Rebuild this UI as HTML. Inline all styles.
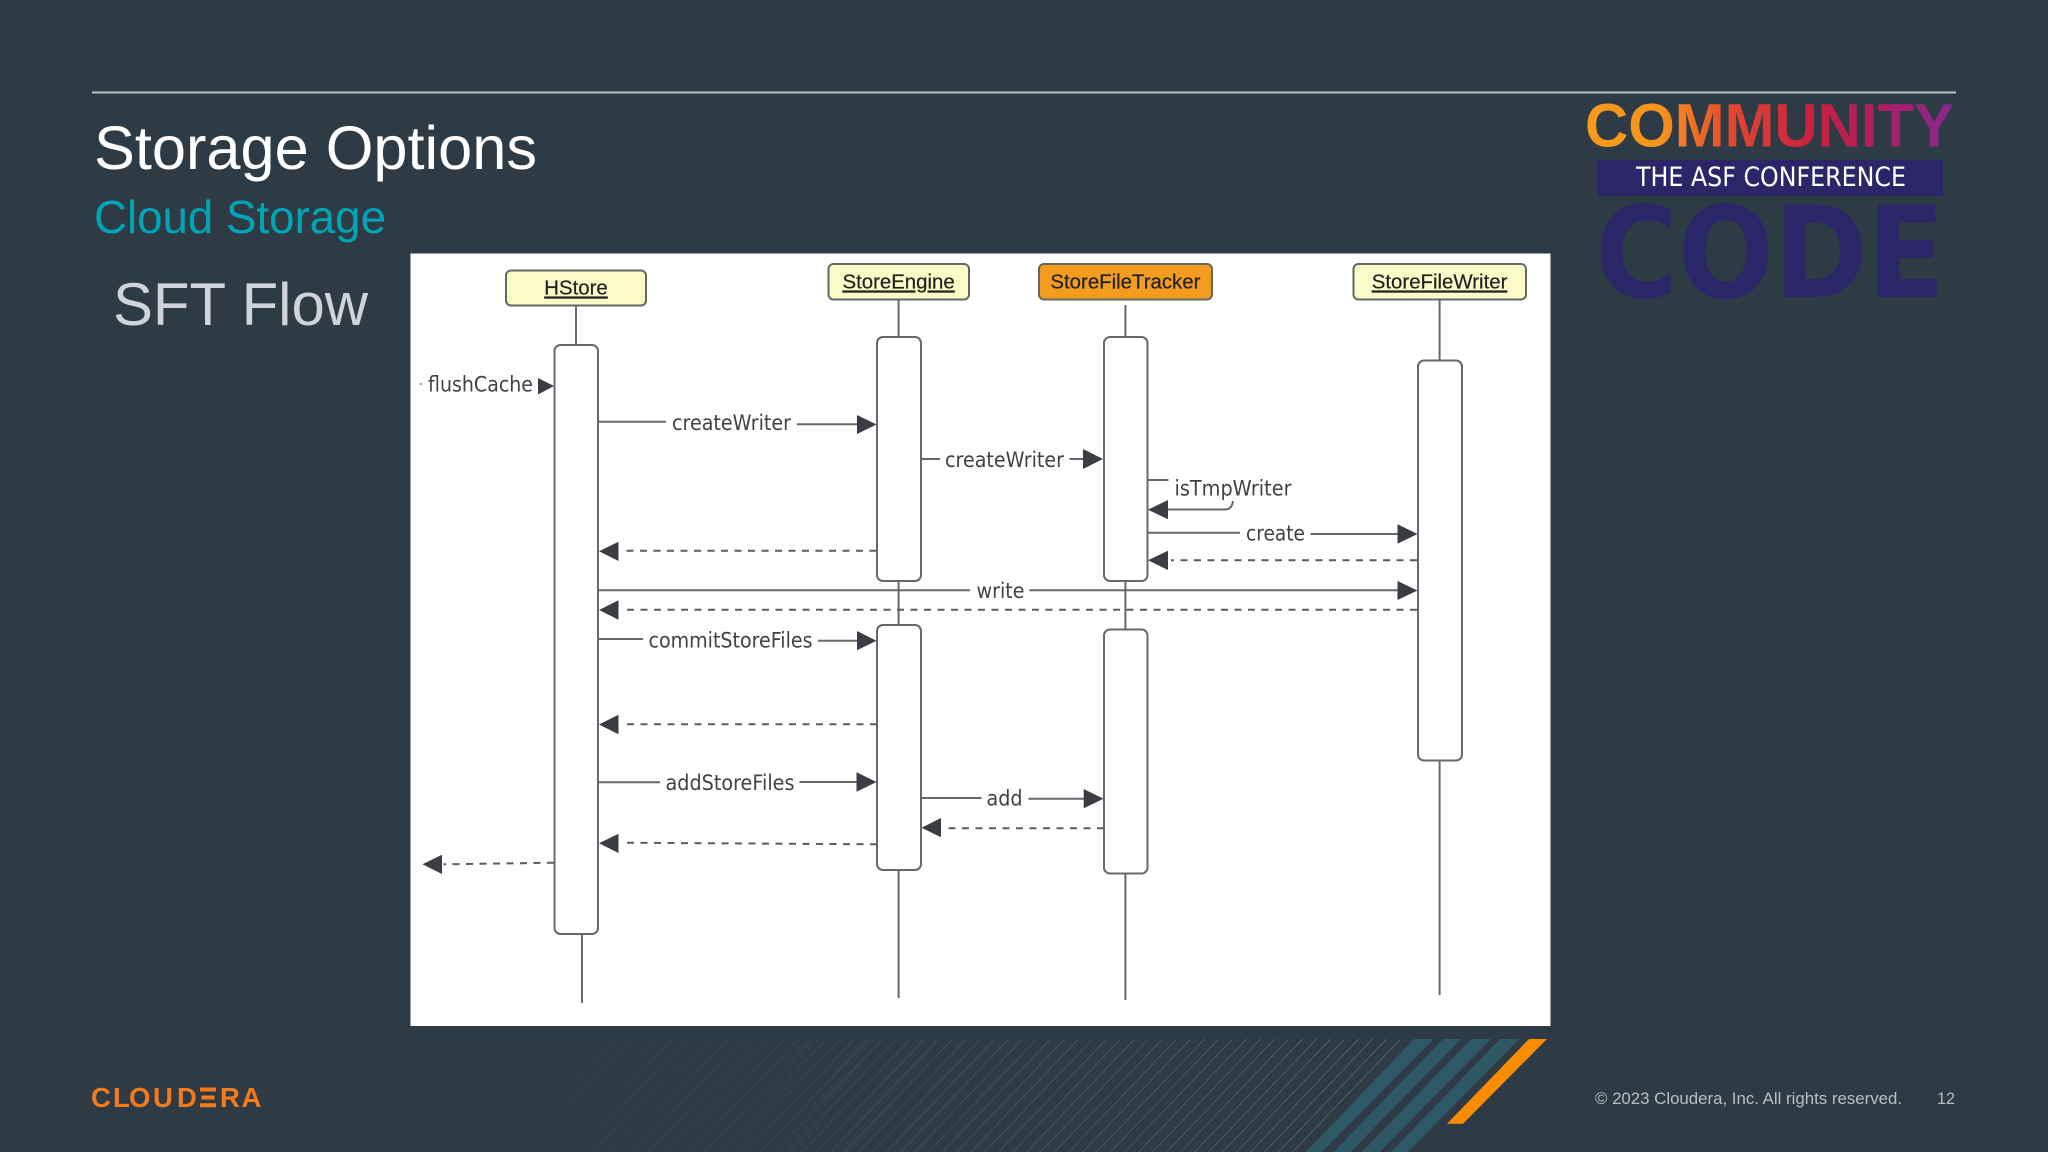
<!DOCTYPE html>
<html><head><meta charset="utf-8"><title>Storage Options</title>
<style>
html,body{margin:0;padding:0;width:2048px;height:1152px;overflow:hidden;background:#2e3b45}
svg{display:block}
.m{font-family:"DejaVu Sans",sans-serif;font-size:21px;fill:#3f4247}
.n{font-family:"Liberation Sans",sans-serif;font-size:20.4px;fill:#222;text-anchor:middle;stroke:#222;stroke-width:.2}
.a{fill:#fff;stroke:#66686b;stroke-width:2}
.l{stroke:#66686b;stroke-width:2;fill:none}
.d{stroke:#5a5c60;stroke-width:2;fill:none;stroke-dasharray:7 6.5}
.h{fill:#3b3d45}
.b{stroke:#66675f;stroke-width:2}
</style></head><body>
<svg width="2048" height="1152" viewBox="0 0 2048 1152" xmlns="http://www.w3.org/2000/svg">
<defs>
<linearGradient id="cg" gradientUnits="userSpaceOnUse" x1="1587" y1="0" x2="1953" y2="0">
<stop offset="0" stop-color="#f79a1e"/><stop offset=".2" stop-color="#f7941d"/><stop offset=".4" stop-color="#e0462f"/><stop offset=".62" stop-color="#c8213f"/><stop offset=".8" stop-color="#ac1f62"/><stop offset="1" stop-color="#87288f"/>
</linearGradient>
<pattern id="st" patternUnits="userSpaceOnUse" width="14" height="4" patternTransform="translate(0 1039) skewX(-43.7)">
<rect x="0" y="0" width="1.2" height="4" fill="#55737f"/>
</pattern>
<linearGradient id="fd" gradientUnits="userSpaceOnUse" x1="370" y1="0" x2="1330" y2="0">
<stop offset="0" stop-color="#fff" stop-opacity="0"/><stop offset=".4" stop-color="#fff" stop-opacity=".22"/><stop offset="1" stop-color="#fff" stop-opacity=".8"/>
</linearGradient>
<mask id="mk" maskUnits="userSpaceOnUse" x="0" y="1000" width="2048" height="152"><rect x="0" y="1000" width="2048" height="152" fill="url(#fd)"/></mask>
</defs>
<rect width="2048" height="1152" fill="#2e3b45"/>

<!-- header -->
<rect x="92" y="91.5" width="1864" height="2" fill="#b5c5c9"/>
<text x="94" y="169" font-family="'Liberation Sans',sans-serif" font-size="61" fill="#fff" textLength="443" lengthAdjust="spacingAndGlyphs">Storage Options</text>
<text x="94" y="233" font-family="'Liberation Sans',sans-serif" font-size="46" fill="#00a5b5" textLength="292" lengthAdjust="spacingAndGlyphs">Cloud Storage</text>
<text x="113" y="325" font-family="'Liberation Sans',sans-serif" font-size="60" fill="#d0d3d9" textLength="255" lengthAdjust="spacingAndGlyphs">SFT Flow</text>

<!-- conference logo -->
<text x="1585" y="146.5" font-family="'Liberation Sans',sans-serif" font-weight="bold" font-size="61" fill="url(#cg)" textLength="369" lengthAdjust="spacingAndGlyphs">COMMUNITY</text>
<rect x="1598" y="160" width="345" height="36" fill="#2b2668"/>
<text x="1636" y="186" font-family="'DejaVu Sans',sans-serif" font-size="27" fill="#fff" textLength="270" lengthAdjust="spacingAndGlyphs">THE ASF CONFERENCE</text>
<text x="1595" y="297" font-family="'DejaVu Sans',sans-serif" font-weight="bold" font-size="127" fill="#2b2668" textLength="350" lengthAdjust="spacingAndGlyphs">CODE</text>

<!-- diagram panel -->
<rect x="410.5" y="253.5" width="1140" height="772.5" fill="#fff"/>

<!-- lifelines -->
<path class="l" d="M576 306V345M582 934V1003"/>
<path class="l" d="M898.6 300V337M898.6 581V625M898.6 870V998"/>
<path class="l" d="M1125.4 305V337M1125.4 581V629M1125.4 873V1000"/>
<path class="l" d="M1439.6 300V360M1439.6 760V995"/>

<!-- nodes -->
<rect class="b" x="506" y="270.5" width="140" height="35" rx="5" fill="#fbfbc8"/>
<text class="n" x="576" y="294.5" text-decoration="underline">HStore</text>
<rect class="b" x="828.5" y="264" width="140.5" height="35.5" rx="5" fill="#fbfbc8"/>
<text class="n" x="898.6" y="288.5" text-decoration="underline">StoreEngine</text>
<rect class="b" x="1039" y="264" width="173" height="35.5" rx="5" fill="#f39c1f"/>
<text class="n" x="1125.4" y="288.5">StoreFileTracker</text>
<rect class="b" x="1353.5" y="264" width="172.5" height="35.5" rx="5" fill="#fbfbc8"/>
<text class="n" x="1439.6" y="288.5" text-decoration="underline">StoreFileWriter</text>

<!-- activations -->
<rect class="a" x="554.5" y="345" width="43.5" height="589" rx="6"/>
<rect class="a" x="877" y="337" width="44" height="244" rx="6"/>
<rect class="a" x="877" y="625" width="44" height="245" rx="6"/>
<rect class="a" x="1104" y="337" width="43.5" height="244" rx="6"/>
<rect class="a" x="1104" y="629.5" width="43.5" height="244" rx="6"/>
<rect class="a" x="1418" y="360.5" width="44" height="400" rx="6"/>

<!-- flushCache -->
<circle cx="421" cy="384" r="1" fill="#777"/>
<text class="m" x="428" y="391.5" textLength="105" lengthAdjust="spacingAndGlyphs">flushCache</text>
<polygon class="h" points="538,378 554,386 538,394.5"/>

<!-- createWriter 1 -->
<path class="l" d="M598 421.7H666M797 424.3H858"/>
<text class="m" x="672" y="430" textLength="119" lengthAdjust="spacingAndGlyphs">createWriter</text>
<polygon class="h" points="857,415 876.5,424.5 857,434"/>

<!-- createWriter 2 -->
<path class="l" d="M921.5 459H940M1069.5 459H1084"/>
<text class="m" x="945" y="467" textLength="119" lengthAdjust="spacingAndGlyphs">createWriter</text>
<polygon class="h" points="1083,449 1103,459 1083,469"/>

<!-- isTmpWriter -->
<path class="l" d="M1148 480H1168.5"/>
<text class="m" x="1174.5" y="495.5" textLength="117" lengthAdjust="spacingAndGlyphs">isTmpWriter</text>
<path class="l" d="M1233 501Q1232 509.5 1225 509.5H1166"/>
<polygon class="h" points="1148,509.7 1168,500 1168,519.3"/>

<!-- create -->
<path class="l" d="M1148 532.7H1240M1310.5 534H1398"/>
<text class="m" x="1246" y="540.5" textLength="59" lengthAdjust="spacingAndGlyphs">create</text>
<polygon class="h" points="1397.5,524.3 1417.5,534 1397.5,543.7"/>

<!-- create return -->
<path class="d" d="M1417 560.3H1171"/>
<polygon class="h" points="1148,560.3 1168,550.7 1168,570"/>

<!-- createWriter return -->
<path class="d" d="M876.5 550.7H621"/>
<polygon class="h" points="599,551.3 618.5,541.7 618.5,561"/>

<!-- write -->
<path class="l" d="M598.5 590.3H970M1029.5 590.3H1398"/>
<text class="m" x="976.5" y="598" textLength="48" lengthAdjust="spacingAndGlyphs">write</text>
<polygon class="h" points="1397.5,581 1417.5,590.5 1397.5,600"/>

<!-- write return -->
<path class="d" d="M1417 609.7H621"/>
<polygon class="h" points="599,610 618.5,600.3 618.5,619.7"/>

<!-- commitStoreFiles -->
<path class="l" d="M598.5 639H643M818 640.7H858"/>
<text class="m" x="648.5" y="647.3" textLength="164" lengthAdjust="spacingAndGlyphs">commitStoreFiles</text>
<polygon class="h" points="857,631 876.5,640.7 857,650.3"/>

<!-- commit return -->
<path class="d" d="M877 724.3H621"/>
<polygon class="h" points="599,724.5 618.5,714.7 618.5,734.3"/>

<!-- addStoreFiles -->
<path class="l" d="M598.5 782.3H660M799.5 782H857"/>
<text class="m" x="665.5" y="790" textLength="129" lengthAdjust="spacingAndGlyphs">addStoreFiles</text>
<polygon class="h" points="856.5,772.3 876.5,782 856.5,791.7"/>

<!-- add -->
<path class="l" d="M921.5 798H981.5M1028.5 798.7H1084"/>
<text class="m" x="986.5" y="805.7" textLength="36" lengthAdjust="spacingAndGlyphs">add</text>
<polygon class="h" points="1083.7,789 1103.5,798.7 1083.7,808.3"/>

<!-- add return -->
<path class="d" d="M1104 828.3H943"/>
<polygon class="h" points="921.5,827.7 941,818 941,837.3"/>

<!-- addStoreFiles return -->
<path class="d" d="M877 844.3L621 842.7"/>
<polygon class="h" points="599,843.3 618.5,833.7 618.5,853"/>

<!-- flushCache return -->
<path class="d" d="M554 862.7L443.5 864.3"/>
<polygon class="h" points="422.5,864.3 442,854.7 442,874"/>

<!-- footer stripes -->
<g>
<polygon points="360,1039 1405,1039 1296,1152 360,1152" fill="url(#st)" mask="url(#mk)"/>
<polygon points="1414,1039 1433.7,1039 1322,1152 1306,1152" fill="#2f5866"/>
<polygon points="1443,1039 1461,1039 1350.5,1152 1333.7,1152" fill="#2f5866"/>
<polygon points="1471,1039 1491,1039 1379.6,1152 1362,1152" fill="#2f5866"/>
<polygon points="1500,1039 1519,1039 1408,1152 1391,1152" fill="#2f5866"/>
<polygon points="1529,1039 1547,1039 1463,1123.7 1447,1123.7" fill="#fb8b00"/>
</g>

<!-- cloudera logo -->
<text y="1107" x="91 113 129 153 177 198 220 241.5" font-family="'Liberation Sans',sans-serif" font-weight="bold" font-size="27.5" fill="#f47a1a">CLOUDERA</text>
<rect x="199" y="1085" width="20" height="24" fill="#2e3b45"/>
<rect x="200" y="1087.5" width="16" height="4" fill="#f47a1a"/>
<rect x="201.5" y="1095.5" width="13" height="4" fill="#f47a1a"/>
<rect x="200" y="1103.2" width="16" height="4" fill="#f47a1a"/>

<!-- footer text -->
<text x="1595" y="1104" font-family="'Liberation Sans',sans-serif" font-size="16.5" fill="#b7bfc4" textLength="307" lengthAdjust="spacingAndGlyphs">© 2023 Cloudera, Inc. All rights reserved.</text>
<text x="1937" y="1104" font-family="'Liberation Sans',sans-serif" font-size="16.5" fill="#b7bfc4" textLength="18" lengthAdjust="spacingAndGlyphs">12</text>
</svg>
</body></html>
